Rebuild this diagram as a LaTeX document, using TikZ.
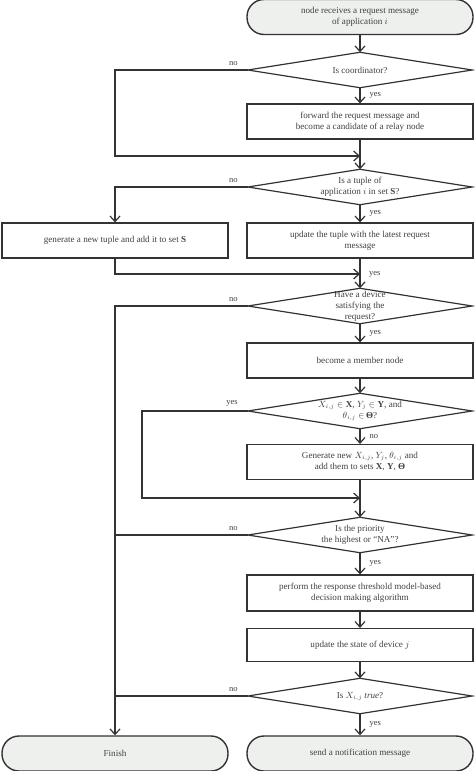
\documentclass[tikz,border=0pt]{standalone}
\usepackage{fontspec}
\setmainfont{Liberation Serif}
\usetikzlibrary{arrows.meta}
\definecolor{ln}{HTML}{333333}
\definecolor{tx}{HTML}{404040}
\definecolor{termfill}{HTML}{EEF0EE}
\newcommand\drawdia[1]{\draw[con] (#1.north) -- (#1.east) -- (#1.south) -- (#1.west) -- cycle;}
\begin{document}
\begin{tikzpicture}[x=1pt,y=-1pt,
  every node/.style={font=\fontsize{9.1}{11}\selectfont, text=tx},
  box/.style={draw=ln, line width=1.2pt, minimum width=226pt, minimum height=35pt, inner sep=1pt, align=center},
  term/.style={box, fill=termfill, line width=1.4pt, rounded corners=17pt},
  dec/.style={minimum width=224pt, minimum height=35pt, inner sep=0pt, align=center},
  arr/.style={draw=ln, line width=1.2pt, -{Straight Barb[length=5.5pt,width=10pt]}},
  con/.style={draw=ln, line width=1.2pt},
  lbl/.style={font=\fontsize{8.5}{10}\selectfont, inner sep=1pt},
  nolbl/.style={lbl, anchor=south east, xshift=-9pt, yshift=3pt},
]
\useasboundingbox (0,0) rectangle (474,771);

% nodes
\node[term] (start) at (360,17) {node receives a request message\\of application $i$};
\node[dec] (d1) at (360,70) {Is coordinator?};
\node[box] (b1) at (360,121.5) {forward the request message and\\become a candidate of a relay node};
\coordinate (j1) at (360,156);
\node[dec] (d2) at (360,187) {Is a tuple of\\application $i$ in set $\mathbf{S}$?};
\node[box] (b2) at (360,240.5) {update the tuple with the latest request\\message};
\node[box] (g) at (115,240.5) {generate a new tuple and add it to set $\mathbf{S}$};
\coordinate (j2) at (360,274);
\node[dec] (d3) at (360,306) {Have a device\\satisfying the\\request?};
\node[box] (b3) at (360,360.5) {become a member node};
\node[dec] (d4) at (360,411) {$X_{i,j}\in\mathbf{X}$, $Y_j\in\mathbf{Y}$, and\\$\theta_{i,j}\in$\,\textbf{Θ}?};
\node[box] (b4) at (360,462) {Generate new $X_{i,j}$, $Y_j$, $\theta_{i,j}$ and\\add them to sets $\mathbf{X}$, $\mathbf{Y}$, \textbf{Θ}};
\coordinate (k4) at (142,498);
\coordinate (j3) at (360,498);
\node[dec] (d5) at (360,535) {Is the priority\\the highest or ``NA''?};
\node[box, minimum height=36pt] (b5) at (360,593) {perform the response threshold model-based\\decision making algorithm};
\node[box, minimum height=33pt] (b6) at (360,645) {update the state of device $j$};
\node[dec] (d6) at (360,696) {Is $X_{i,j}$ \textit{true}?};
\node[term] (send) at (360,753.5) {send a notification message};
\node[term] (fin) at (115,753.5) {Finish};

\drawdia{d1}
\drawdia{d2}
\drawdia{d3}
\drawdia{d4}
\drawdia{d5}
\drawdia{d6}

% connectors
\draw[arr] (start) -- (d1.north);
\draw[arr] (d1.south) -- node[lbl, right=8pt]{yes} (b1.north);
\draw[arr] (d1.west) -- (d1.west -| g.north) -- (j1 -| g.north) -- (j1);
\node[nolbl] at (d1.west) {no};
\draw[arr] (b1.south) -- (d2.north);
\draw[arr] (d2.west) -| (g.north);
\node[nolbl] at (d2.west) {no};
\draw[arr] (d2.south) -- node[lbl, right=8pt]{yes} (b2.north);
\draw[arr] (g.south) |- (j2);
\draw[arr] (b2.south) -- (d3.north);
\node[lbl, right=8pt] at (j2) {yes};
\draw[arr] (d3.west) -| (fin.north);
\node[nolbl] at (d3.west) {no};
\draw[arr] (d3.south) -- node[lbl, right=8pt]{yes} (b3.north);
\draw[arr] (b3.south) -- (d4.north);
\draw[arr] (d4.west) -| (k4) -- (j3);
\node[nolbl] at (d4.west) {yes};
\draw[arr] (d4.south) -- node[lbl, right=8pt]{no} (b4.north);
\draw[arr] (b4.south) -- (d5.north);
\draw[con] (d5.west) -- (d5.west -| fin.north);
\node[nolbl] at (d5.west) {no};
\draw[arr] (d5.south) -- node[lbl, right=8pt]{yes} (b5.north);
\draw[arr] (b5.south) -- (b6.north);
\draw[arr] (b6.south) -- (d6.north);
\draw[con] (d6.west) -- (d6.west -| fin.north);
\node[nolbl] at (d6.west) {no};
\draw[arr] (d6.south) -- node[lbl, right=8pt]{yes} (send.north);
\end{tikzpicture}
\end{document}
